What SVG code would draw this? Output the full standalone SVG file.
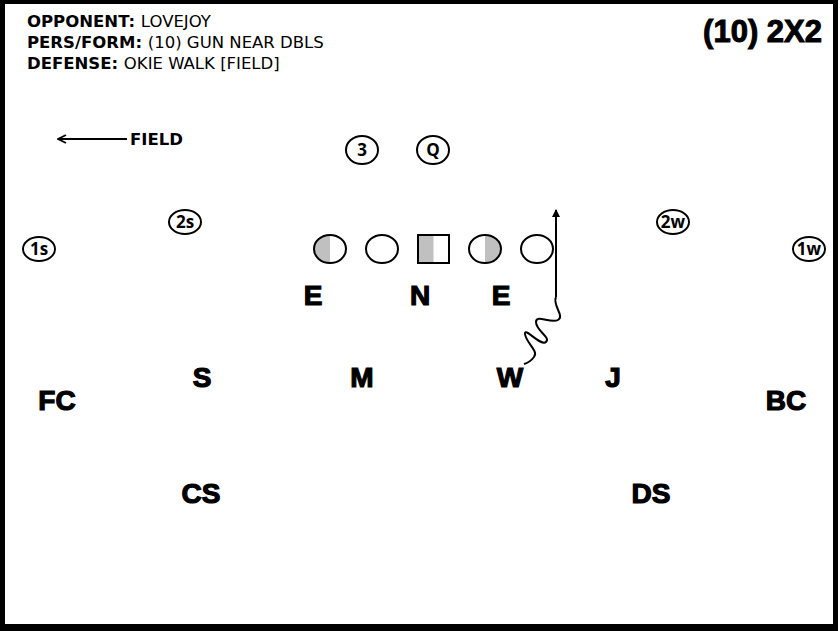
<svg xmlns="http://www.w3.org/2000/svg" width="840" height="631" viewBox="0 0 840 631">
<style>
.hb{font-family:"DejaVu Sans",Verdana,sans-serif;font-weight:bold;font-size:16.5px;fill:#000}
.hn{font-family:"DejaVu Sans",Verdana,sans-serif;font-weight:normal}
.big{font-family:"Liberation Sans",Arial,sans-serif;font-weight:bold;font-size:28px;fill:#000;stroke:#000;stroke-width:1.2;text-anchor:middle}
.pl{fill:#fff;stroke:#000;stroke-width:2}
.pt{font-family:"Open Sans","Liberation Sans",sans-serif;font-weight:bold;font-size:17px;fill:#000;text-anchor:middle}
.gray{fill:#c0c0c0}
.ln{fill:none;stroke:#000;stroke-width:2}
</style>
<defs>
<marker id="ah" markerWidth="10" markerHeight="10" refX="9" refY="5" orient="auto" markerUnits="userSpaceOnUse">
<path d="M1,1 L9,5 L1,9" fill="none" stroke="#000" stroke-width="1.8"/>
</marker>
<marker id="af" markerWidth="8" markerHeight="10" refX="7" refY="4" orient="auto" markerUnits="userSpaceOnUse">
<path d="M0,0 L8,4 L0,8 Z" fill="#000"/>
</marker>
<clipPath id="c1"><ellipse cx="330" cy="249" rx="16" ry="14"/></clipPath>
<clipPath id="c4"><ellipse cx="485" cy="249" rx="16" ry="14"/></clipPath>
</defs>
<rect x="0" y="0" width="838" height="631" fill="#000"/>
<rect x="5" y="4" width="828" height="620" fill="#fff"/>

<g id="header">
<text class="hb" x="27" y="27">OPPONENT: <tspan class="hn">LOVEJOY</tspan></text>
<text class="hb" x="27" y="48">PERS/FORM: <tspan class="hn">(10) GUN NEAR DBLS</tspan></text>
<text class="hb" x="27" y="69">DEFENSE: <tspan class="hn">OKIE WALK [FIELD]</tspan></text>
</g>
<g id="title"><text x="822" y="42" font-family="Liberation Sans,Arial,sans-serif" font-weight="bold" font-size="31" stroke="#000" stroke-width="1" text-anchor="end">(10) 2X2</text></g>

<g id="field">
<text class="hb" x="130" y="145" style="font-size:16.5px">FIELD</text>
</g>

<g id="connectors">
<line class="ln" x1="127" y1="139" x2="58" y2="139" marker-end="url(#ah)" style="stroke-width:1.8"/>
<path class="ln" d="M556,297 C552,305 565,316 558,320 C551,324 536,314 536,322 C536,331 551,337 546,342 C541,347 524,326 525,334 C526,343 539,351 534,357 C531,361 528,363 524,364" />
<line class="ln" x1="556" y1="297" x2="556" y2="210" marker-end="url(#af)"/>
</g>

<g id="p3"><ellipse class="pl" cx="362" cy="150" rx="16" ry="14"/><text class="pt" x="362" y="156">3</text></g>
<g id="pQ"><ellipse class="pl" cx="433" cy="150" rx="16" ry="14"/><text class="pt" x="433" y="156">Q</text></g>
<g id="p1s"><ellipse class="pl" cx="39" cy="249" rx="16" ry="12"/><text class="pt" x="39" y="255">1s</text></g>
<g id="p2s"><ellipse class="pl" cx="185" cy="222" rx="16" ry="12"/><text class="pt" x="185" y="228">2s</text></g>
<g id="p2w"><ellipse class="pl" cx="673" cy="222" rx="16" ry="12"/><text class="pt" x="673" y="228">2w</text></g>
<g id="p1w"><ellipse class="pl" cx="809" cy="249" rx="16" ry="12"/><text class="pt" x="809" y="255">1w</text></g>

<g id="lt">
<ellipse cx="330" cy="249" rx="16" ry="14" fill="#fff"/>
<rect class="gray" x="313" y="234" width="17" height="30" clip-path="url(#c1)"/>
<ellipse cx="330" cy="249" rx="16" ry="14" fill="none" stroke="#000" stroke-width="2"/>
</g>
<g id="lg"><ellipse class="pl" cx="382" cy="249" rx="16" ry="14"/></g>
<g id="c">
<rect x="418" y="235" width="31" height="28" fill="#fff"/>
<rect class="gray" x="418" y="235" width="15.5" height="28"/>
<rect x="418" y="235" width="31" height="28" fill="none" stroke="#000" stroke-width="2"/>
</g>
<g id="rg">
<ellipse cx="485" cy="249" rx="16" ry="14" fill="#fff"/>
<rect class="gray" x="485" y="234" width="17" height="30" clip-path="url(#c4)"/>
<ellipse cx="485" cy="249" rx="16" ry="14" fill="none" stroke="#000" stroke-width="2"/>
</g>
<g id="rt"><ellipse class="pl" cx="537" cy="249" rx="16" ry="14"/></g>

<g id="dE1"><text class="big" x="313" y="305">E</text></g>
<g id="dN"><text class="big" x="420" y="305">N</text></g>
<g id="dE2"><text class="big" x="501" y="305">E</text></g>
<g id="dS"><text class="big" x="202" y="387">S</text></g>
<g id="dM"><text class="big" x="362" y="387">M</text></g>
<g id="dW"><text class="big" x="510" y="387">W</text></g>
<g id="dJ"><text class="big" x="613" y="387">J</text></g>
<g id="dFC"><text class="big" x="57" y="410">FC</text></g>
<g id="dBC"><text class="big" x="786" y="410">BC</text></g>
<g id="dCS"><text class="big" x="201" y="503">CS</text></g>
<g id="dDS"><text class="big" x="651" y="503">DS</text></g>
</svg>
